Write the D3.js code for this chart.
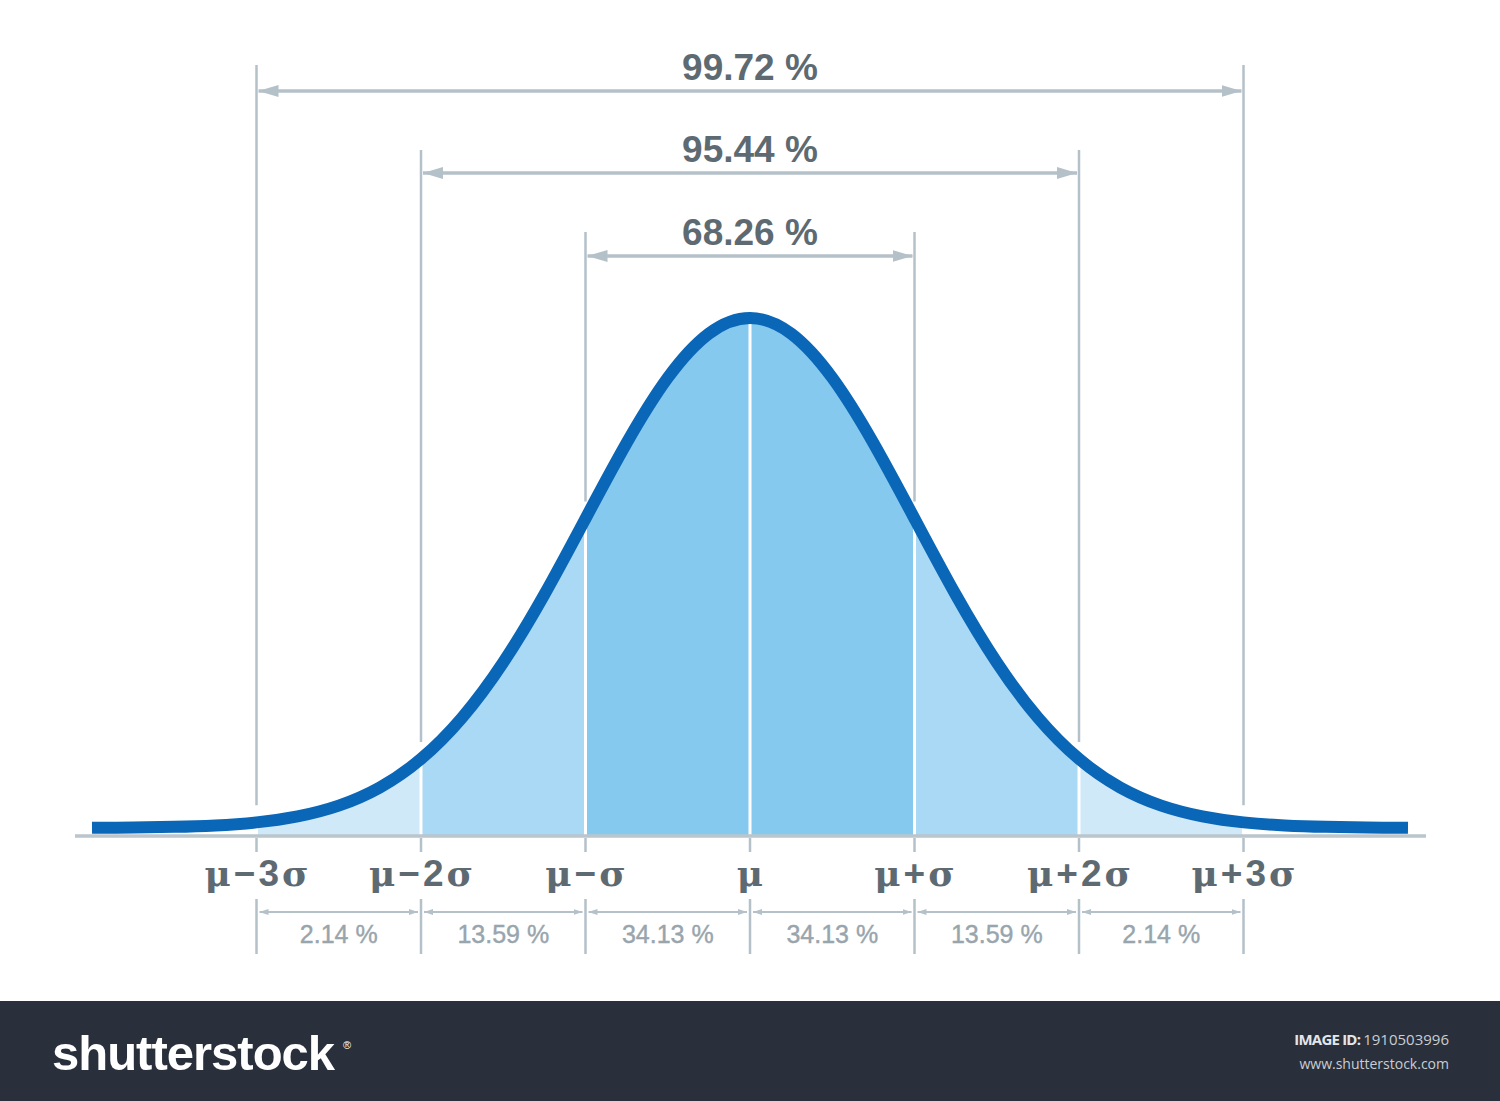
<!DOCTYPE html>
<html><head><meta charset="utf-8">
<script src="https://cdn.jsdelivr.net/npm/d3@7"></script>
<style>html,body{margin:0;padding:0;background:#fff;}svg{display:block;}</style>
</head><body>
<svg id="chart" width="1500" height="1101"></svg>
<script>
// ---- data ----
const zValues = [-4,-3.75,-3.5,-3.25,-3,-2.75,-2.5,-2.25,-2,-1.75,-1.5,-1.25,-1,-0.75,-0.5,-0.25,0,0.25,0.5,0.75,1,1.25,1.5,1.75,2,2.25,2.5,2.75,3,3.25,3.5,3.75,4];
const density = [0.0001,0.0004,0.0009,0.0020,0.0044,0.0091,0.0175,0.0317,0.0540,0.0863,0.1295,0.1826,0.2420,0.3011,0.3521,0.3867,0.3989,0.3867,0.3521,0.3011,0.2420,0.1826,0.1295,0.0863,0.0540,0.0317,0.0175,0.0091,0.0044,0.0020,0.0009,0.0004,0.0001];
const boundaries = [-3,-2,-1,0,1,2,3];
const boundaryLabels = ["μ−3σ","μ−2σ","μ−σ","μ","μ+σ","μ+2σ","μ+3σ"];
const segmentLabels = ["2.14 %","13.59 %","34.13 %","34.13 %","13.59 %","2.14 %"];
const rangeSigmas = [3,2,1];
const rangeLabels = ["99.72 %","95.44 %","68.26 %"];

// ---- layout ----
const svg = d3.select("#chart");
const x = d3.scaleLinear().domain([-4,4]).range([92,1408]);
const y = d3.scaleLinear().domain([0,0.3989]).range([828,318]);
const axisY = 835;
const gray = "#B4C1C9", textDark = "#5E6A72", textLight = "#98A5AD";
const pts = zValues.map((z,i)=>({z, d: density[i]}));
const curveFn = d3.curveNatural;

const defs = svg.append("defs");
const bandColors = ["#CFE9F8","#A9D9F4","#86C9EE","#86C9EE","#A9D9F4","#CFE9F8"];
const area = d3.area().x(p=>x(p.z)).y0(axisY).y1(p=>y(p.d)).curve(curveFn);
bandColors.forEach((c,i)=>{
  const id = "clip"+i;
  defs.append("clipPath").attr("id",id).append("rect")
    .attr("x", x(boundaries[i])).attr("y",0)
    .attr("width", x(boundaries[i+1])-x(boundaries[i])).attr("height", 1101);
  svg.append("path").datum(pts).attr("d",area).attr("fill",c).attr("clip-path",`url(#${id})`);
});

function curveYAt(z){ const i = zValues.indexOf(z); return y(density[i]); }

// white dividers inside fill
boundaries.forEach(b=>{
  svg.append("line").attr("x1",x(b)).attr("x2",x(b)).attr("y1",curveYAt(b)).attr("y2",axisY)
    .attr("stroke","#fff").attr("stroke-width",3);
});

// gray verticals above curve
const topY = {3:65, 2:150, 1:232};
boundaries.filter(b=>b!==0).forEach(b=>{
  svg.append("line").attr("x1",x(b)).attr("x2",x(b))
    .attr("y1",topY[Math.abs(b)]).attr("y2",curveYAt(b)-17)
    .attr("stroke",gray).attr("stroke-width",2.5);
});

// arrow markers
function marker(id, len, wid){
  const m = defs.append("marker").attr("id",id).attr("viewBox",`0 0 ${len} ${wid}`)
    .attr("refX",len).attr("refY",wid/2).attr("markerWidth",len).attr("markerHeight",wid)
    .attr("markerUnits","userSpaceOnUse").attr("orient","auto-start-reverse");
  m.append("path").attr("d",`M0,0L${len},${wid/2}L0,${wid}Z`).attr("fill",gray);
}
marker("arrBig",20,12);
marker("arrSmall",9,6);

const rangeY = [91,173,256];
rangeSigmas.forEach((s,i)=>{
  svg.append("line").attr("x1",x(-s)+2).attr("x2",x(s)-2).attr("y1",rangeY[i]).attr("y2",rangeY[i])
    .attr("stroke",gray).attr("stroke-width",3.5)
    .attr("marker-start","url(#arrBig)").attr("marker-end","url(#arrBig)");
  svg.append("text").attr("x",x(0)).attr("y",rangeY[i]-11).attr("text-anchor","middle")
    .attr("font-family","Liberation Sans, Arial, sans-serif").attr("font-weight","bold")
    .attr("font-size",37).attr("fill",textDark).text(rangeLabels[i]);
});

// axis line
svg.append("line").attr("x1",75).attr("x2",1426).attr("y1",axisY+1).attr("y2",axisY+1)
  .attr("stroke","#BAC5CC").attr("stroke-width",3.5);

// main curve
svg.append("path").datum(pts)
  .attr("d", d3.line().x(p=>x(p.z)).y(p=>y(p.d)).curve(curveFn))
  .attr("fill","none").attr("stroke","#0A66B7").attr("stroke-width",12).attr("stroke-linecap","butt");

// ticks below axis + lower lines
boundaries.forEach(b=>{
  svg.append("line").attr("x1",x(b)).attr("x2",x(b)).attr("y1",axisY+3).attr("y2",852)
    .attr("stroke",gray).attr("stroke-width",2.5);
  svg.append("line").attr("x1",x(b)).attr("x2",x(b)).attr("y1",899).attr("y2",954)
    .attr("stroke",gray).attr("stroke-width",2.5);
});

// boundary labels
boundaryLabels.forEach((lab,i)=>{
  const t = svg.append("text").attr("x",x(boundaries[i])).attr("y",886).attr("text-anchor","middle")
    .attr("font-weight","bold").attr("font-size",36).attr("fill",textDark);
  [...lab].forEach((ch,j)=>{
    const serif = (ch==="μ"||ch==="σ");
    t.append("tspan").attr("dx", j===0?0:3)
      .attr("font-family", serif ? "DejaVu Serif, Liberation Serif, serif" : "Liberation Sans, Arial, sans-serif")
      .attr("font-size", serif ? 36 : 37)
      .text(ch);
  });
});

// segment arrows + labels
segmentLabels.forEach((lab,i)=>{
  const a = x(boundaries[i]), b = x(boundaries[i+1]);
  svg.append("line").attr("x1",a+3).attr("x2",b-3).attr("y1",912).attr("y2",912)
    .attr("stroke",gray).attr("stroke-width",1.8)
    .attr("marker-start","url(#arrSmall)").attr("marker-end","url(#arrSmall)");
  svg.append("text").attr("x",(a+b)/2).attr("y",943).attr("text-anchor","middle")
    .attr("font-family","Liberation Sans, Arial, sans-serif").attr("font-size",25)
    .attr("stroke",textLight).attr("stroke-width",0.4)
    .attr("fill",textLight).text(lab);
});

// footer band
svg.append("rect").attr("x",0).attr("y",1001).attr("width",1500).attr("height",100).attr("fill","#29303B");
svg.append("text").attr("x",52).attr("y",1070).attr("font-family","Liberation Sans, Arial, sans-serif")
  .attr("font-weight","bold").attr("font-size",49).attr("letter-spacing",-1).attr("fill","#fff").text("shutterstock");
svg.append("text").attr("x",343).attr("y",1049).attr("font-family","Liberation Sans, Arial, sans-serif")
  .attr("font-size",11).attr("fill","#fff").text("®");
const idT = svg.append("text").attr("x",1449).attr("y",1045).attr("text-anchor","end")
  .attr("font-family","Open Sans, Liberation Sans, sans-serif").attr("font-size",15).attr("fill","#E4E6EA");
idT.append("tspan").attr("font-weight","bold").attr("letter-spacing",-0.8).text("IMAGE ID: ");
idT.append("tspan").attr("fill","#C9CDD3").text("1910503996");
svg.append("text").attr("x",1449).attr("y",1069).attr("text-anchor","end")
  .attr("font-family","Open Sans, Liberation Sans, sans-serif").attr("font-size",14).attr("fill","#C9CDD3")
  .text("www.shutterstock.com");
</script>
</body></html>
